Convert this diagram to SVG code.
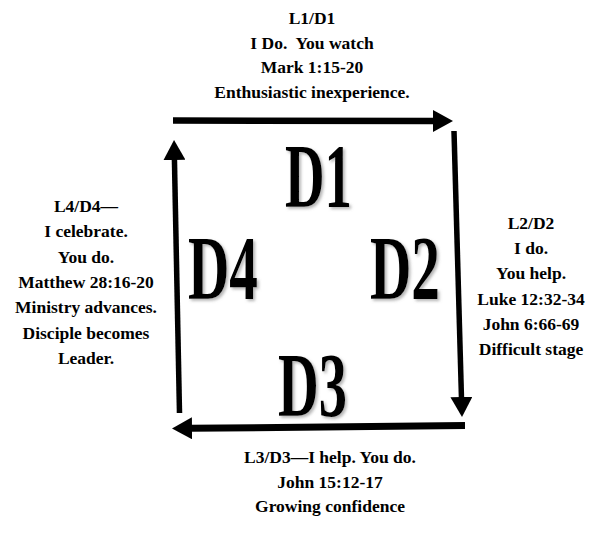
<svg xmlns="http://www.w3.org/2000/svg" width="600" height="551" viewBox="0 0 600 551">
  <style>
    .lbl { font-family: "Liberation Serif", "Times New Roman", serif; font-weight: bold; font-size: 17.5px; fill: #000; text-anchor: middle; }
    .big { font-family: "Liberation Serif", "Times New Roman", serif; font-weight: bold; font-size: 91px; fill: #000; filter: url(#shadow); }
    .conn { stroke: #000; fill: none; marker-end: url(#head); }
    .pre { white-space: pre; }
  </style>
  <defs>
    <filter id="shadow" x="-20%" y="-20%" width="140%" height="140%">
      <feDropShadow dx="2" dy="2" stdDeviation="1.5" flood-color="#777" flood-opacity="0.55"/>
    </filter>
    <marker id="head" markerUnits="userSpaceOnUse" viewBox="0 0 20 22" markerWidth="20" markerHeight="22" refX="2" refY="11" orient="auto">
      <path d="M0,0 L20,11 L0,22 z" fill="#000"/>
    </marker>
  </defs>
  <rect width="600" height="551" fill="#fff"/>

  <g id="connectors">
    <line class="conn" x1="173" y1="120.5" x2="435" y2="121" stroke-width="6.5"/>
    <line class="conn" x1="454" y1="131" x2="461.5" y2="399" stroke-width="5.5"/>
    <line class="conn" x1="465" y1="425.5" x2="190" y2="428.3" stroke-width="7"/>
    <line class="conn" x1="179.5" y1="413" x2="174.4" y2="158" stroke-width="5.5"/>
  </g>

  <g id="node-D1"><text class="big" x="285" y="207" font-size="94" textLength="67" lengthAdjust="spacingAndGlyphs">D1</text></g>
  <g id="node-D2"><text class="big" x="370" y="299" font-size="90" textLength="70" lengthAdjust="spacingAndGlyphs">D2</text></g>
  <g id="node-D3"><text class="big" x="278" y="416" textLength="69" lengthAdjust="spacingAndGlyphs">D3</text></g>
  <g id="node-D4"><text class="big" x="188" y="299" font-size="90" textLength="70" lengthAdjust="spacingAndGlyphs">D4</text></g>

  <g id="label-L1">
    <text class="lbl" x="312" y="24">L1/D1</text>
    <text class="lbl pre" x="312" y="48.5" xml:space="preserve">I Do.  You watch</text>
    <text class="lbl" x="312" y="73">Mark 1:15-20</text>
    <text class="lbl" x="312" y="97.5">Enthusiastic inexperience.</text>
  </g>
  <g id="label-L2">
    <text class="lbl" x="531" y="229">L2/D2</text>
    <text class="lbl" x="531" y="254.2">I do.</text>
    <text class="lbl" x="531" y="279.4">You help.</text>
    <text class="lbl" x="531" y="304.6">Luke 12:32-34</text>
    <text class="lbl" x="531" y="329.8">John 6:66-69</text>
    <text class="lbl" x="531" y="355">Difficult stage</text>
  </g>
  <g id="label-L3">
    <text class="lbl" x="330" y="463">L3/D3—I help. You do.</text>
    <text class="lbl" x="330" y="487.5">John 15:12-17</text>
    <text class="lbl" x="330" y="512">Growing confidence</text>
  </g>
  <g id="label-L4">
    <text class="lbl" x="86" y="212">L4/D4—</text>
    <text class="lbl" x="86" y="237.3">I celebrate.</text>
    <text class="lbl" x="86" y="262.6">You do.</text>
    <text class="lbl" x="86" y="287.9">Matthew 28:16-20</text>
    <text class="lbl" x="86" y="313.2">Ministry advances.</text>
    <text class="lbl" x="86" y="338.5">Disciple becomes</text>
    <text class="lbl" x="86" y="363.8">Leader.</text>
  </g>
</svg>
